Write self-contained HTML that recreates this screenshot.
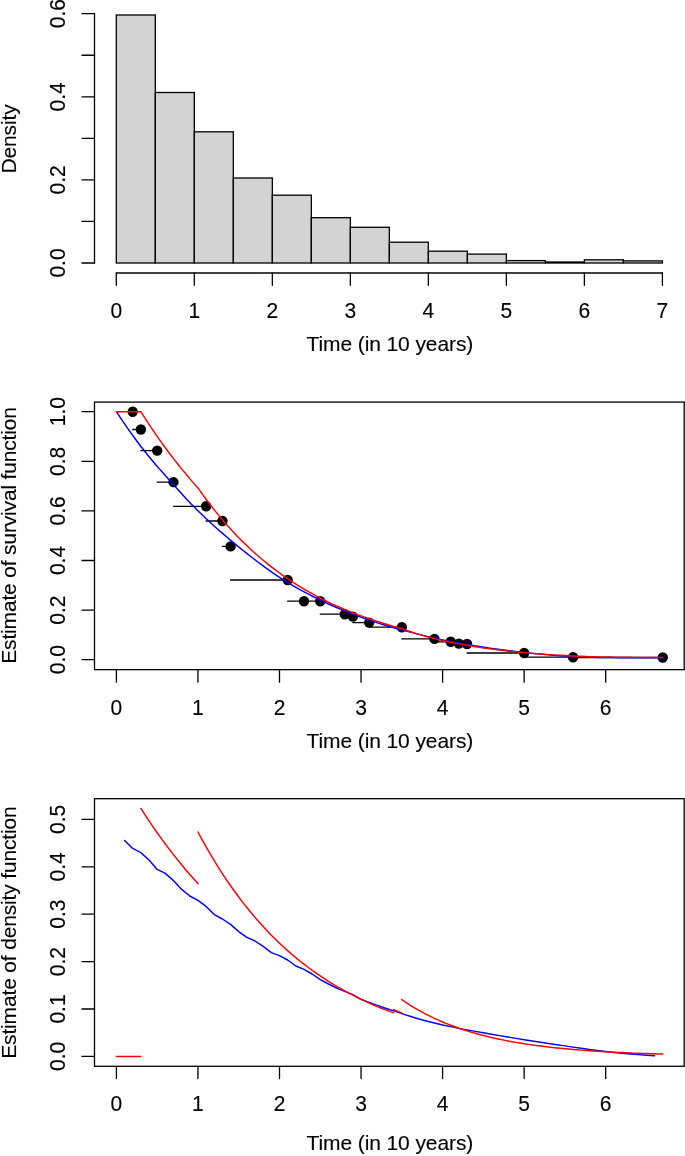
<!DOCTYPE html><html><head><meta charset="utf-8"><title>Survival and density estimates</title>
<style>html,body{margin:0;padding:0;background:#fff}svg{display:block}text{font-family:"Liberation Sans",Arial,sans-serif;font-size:21.0px;fill:#000;stroke:#000;stroke-width:0.12px}.l{stroke:#000;stroke-width:1.3;fill:none;stroke-linecap:round}.r{stroke:#ff0000;stroke-width:1.45;fill:none;stroke-linecap:round;stroke-linejoin:round}.b{stroke:#0000ff;stroke-width:1.45;fill:none;stroke-linecap:round;stroke-linejoin:round}.bar{fill:#d3d3d3;stroke:#000;stroke-width:1.3}</style></head><body>
<svg width="685" height="1156" viewBox="0 0 685 1156">
<rect width="685" height="1156" fill="#fff"/>
<rect class="bar" x="116.30" y="15.00" width="39.01" height="248.00"/>
<rect class="bar" x="155.31" y="92.50" width="39.01" height="170.50"/>
<rect class="bar" x="194.31" y="131.80" width="39.01" height="131.20"/>
<rect class="bar" x="233.32" y="178.00" width="39.01" height="85.00"/>
<rect class="bar" x="272.33" y="195.20" width="39.01" height="67.80"/>
<rect class="bar" x="311.33" y="217.70" width="39.01" height="45.30"/>
<rect class="bar" x="350.34" y="227.30" width="39.01" height="35.70"/>
<rect class="bar" x="389.35" y="242.20" width="39.01" height="20.80"/>
<rect class="bar" x="428.36" y="251.20" width="39.01" height="11.80"/>
<rect class="bar" x="467.36" y="254.10" width="39.01" height="8.90"/>
<rect class="bar" x="506.37" y="260.60" width="39.01" height="2.40"/>
<rect class="bar" x="545.38" y="262.00" width="39.01" height="1.00"/>
<rect class="bar" x="584.38" y="259.80" width="39.01" height="3.20"/>
<rect class="bar" x="623.39" y="260.90" width="39.01" height="2.10"/>
<line class="l" x1="94.50" y1="13.70" x2="94.50" y2="263.00"/>
<line class="l" x1="82.00" y1="263.00" x2="94.50" y2="263.00"/>
<line class="l" x1="82.00" y1="221.45" x2="94.50" y2="221.45"/>
<line class="l" x1="82.00" y1="179.90" x2="94.50" y2="179.90"/>
<line class="l" x1="82.00" y1="138.35" x2="94.50" y2="138.35"/>
<line class="l" x1="82.00" y1="96.80" x2="94.50" y2="96.80"/>
<line class="l" x1="82.00" y1="55.25" x2="94.50" y2="55.25"/>
<line class="l" x1="82.00" y1="13.70" x2="94.50" y2="13.70"/>
<text transform="translate(64.70,263.00) rotate(-90) scale(1,1.05)" text-anchor="middle">0.0</text>
<text transform="translate(64.70,179.90) rotate(-90) scale(1,1.05)" text-anchor="middle">0.2</text>
<text transform="translate(64.70,96.80) rotate(-90) scale(1,1.05)" text-anchor="middle">0.4</text>
<text transform="translate(64.70,13.70) rotate(-90) scale(1,1.05)" text-anchor="middle">0.6</text>
<line class="l" x1="116.30" y1="273.00" x2="662.40" y2="273.00"/>
<line class="l" x1="116.30" y1="273.00" x2="116.30" y2="285.30"/>
<text transform="translate(116.30,317.90) scale(1,1.05)" text-anchor="middle">0</text>
<line class="l" x1="194.31" y1="273.00" x2="194.31" y2="285.30"/>
<text transform="translate(194.31,317.90) scale(1,1.05)" text-anchor="middle">1</text>
<line class="l" x1="272.33" y1="273.00" x2="272.33" y2="285.30"/>
<text transform="translate(272.33,317.90) scale(1,1.05)" text-anchor="middle">2</text>
<line class="l" x1="350.34" y1="273.00" x2="350.34" y2="285.30"/>
<text transform="translate(350.34,317.90) scale(1,1.05)" text-anchor="middle">3</text>
<line class="l" x1="428.36" y1="273.00" x2="428.36" y2="285.30"/>
<text transform="translate(428.36,317.90) scale(1,1.05)" text-anchor="middle">4</text>
<line class="l" x1="506.37" y1="273.00" x2="506.37" y2="285.30"/>
<text transform="translate(506.37,317.90) scale(1,1.05)" text-anchor="middle">5</text>
<line class="l" x1="584.38" y1="273.00" x2="584.38" y2="285.30"/>
<text transform="translate(584.38,317.90) scale(1,1.05)" text-anchor="middle">6</text>
<line class="l" x1="662.40" y1="273.00" x2="662.40" y2="285.30"/>
<text transform="translate(662.40,317.90) scale(1,1.05)" text-anchor="middle">7</text>
<text transform="translate(389.90,351.00) scale(1,1.0)" text-anchor="middle" textLength="166.9" lengthAdjust="spacing">Time (in 10 years)</text>
<text transform="translate(15.70,138.90) rotate(-90) scale(1,1.0)" text-anchor="middle" textLength="69.2" lengthAdjust="spacing">Density</text>
<rect class="l" x="94.5" y="402.1" width="589.70" height="267.55"/>
<line class="l" x1="82.00" y1="659.70" x2="94.50" y2="659.70"/>
<text transform="translate(64.70,659.70) rotate(-90) scale(1,1.05)" text-anchor="middle">0.0</text>
<line class="l" x1="82.00" y1="610.10" x2="94.50" y2="610.10"/>
<text transform="translate(64.70,610.10) rotate(-90) scale(1,1.05)" text-anchor="middle">0.2</text>
<line class="l" x1="82.00" y1="560.50" x2="94.50" y2="560.50"/>
<text transform="translate(64.70,560.50) rotate(-90) scale(1,1.05)" text-anchor="middle">0.4</text>
<line class="l" x1="82.00" y1="510.90" x2="94.50" y2="510.90"/>
<text transform="translate(64.70,510.90) rotate(-90) scale(1,1.05)" text-anchor="middle">0.6</text>
<line class="l" x1="82.00" y1="461.30" x2="94.50" y2="461.30"/>
<text transform="translate(64.70,461.30) rotate(-90) scale(1,1.05)" text-anchor="middle">0.8</text>
<line class="l" x1="82.00" y1="411.70" x2="94.50" y2="411.70"/>
<text transform="translate(64.70,411.70) rotate(-90) scale(1,1.05)" text-anchor="middle">1.0</text>
<line class="l" x1="116.40" y1="669.65" x2="116.40" y2="682.20"/>
<text transform="translate(116.40,714.50) scale(1,1.05)" text-anchor="middle">0</text>
<line class="l" x1="197.95" y1="669.65" x2="197.95" y2="682.20"/>
<text transform="translate(197.95,714.50) scale(1,1.05)" text-anchor="middle">1</text>
<line class="l" x1="279.50" y1="669.65" x2="279.50" y2="682.20"/>
<text transform="translate(279.50,714.50) scale(1,1.05)" text-anchor="middle">2</text>
<line class="l" x1="361.05" y1="669.65" x2="361.05" y2="682.20"/>
<text transform="translate(361.05,714.50) scale(1,1.05)" text-anchor="middle">3</text>
<line class="l" x1="442.60" y1="669.65" x2="442.60" y2="682.20"/>
<text transform="translate(442.60,714.50) scale(1,1.05)" text-anchor="middle">4</text>
<line class="l" x1="524.15" y1="669.65" x2="524.15" y2="682.20"/>
<text transform="translate(524.15,714.50) scale(1,1.05)" text-anchor="middle">5</text>
<line class="l" x1="605.70" y1="669.65" x2="605.70" y2="682.20"/>
<text transform="translate(605.70,714.50) scale(1,1.05)" text-anchor="middle">6</text>
<text transform="translate(389.90,748.00) scale(1,1.0)" text-anchor="middle" textLength="166.9" lengthAdjust="spacing">Time (in 10 years)</text>
<text transform="translate(15.70,535.40) rotate(-90) scale(1,1.0)" text-anchor="middle" textLength="256.7" lengthAdjust="spacing">Estimate of survival function</text>
<line class="l" x1="132.71" y1="429.50" x2="140.87" y2="429.50"/>
<line class="l" x1="140.87" y1="450.60" x2="157.18" y2="450.60"/>
<line class="l" x1="157.18" y1="482.10" x2="173.49" y2="482.10"/>
<line class="l" x1="173.49" y1="506.30" x2="206.11" y2="506.30"/>
<line class="l" x1="206.11" y1="521.00" x2="222.42" y2="521.00"/>
<line class="l" x1="222.42" y1="546.40" x2="230.57" y2="546.40"/>
<line class="l" x1="230.57" y1="580.00" x2="287.65" y2="580.00"/>
<line class="l" x1="287.65" y1="601.20" x2="303.96" y2="601.20"/>
<line class="l" x1="303.96" y1="601.20" x2="320.27" y2="601.20"/>
<line class="l" x1="320.27" y1="614.20" x2="344.74" y2="614.20"/>
<line class="l" x1="344.74" y1="616.60" x2="352.89" y2="616.60"/>
<line class="l" x1="352.89" y1="622.60" x2="369.21" y2="622.60"/>
<line class="l" x1="369.21" y1="627.20" x2="401.83" y2="627.20"/>
<line class="l" x1="401.83" y1="638.90" x2="434.44" y2="638.90"/>
<line class="l" x1="434.44" y1="641.80" x2="450.75" y2="641.80"/>
<line class="l" x1="450.75" y1="643.60" x2="458.91" y2="643.60"/>
<line class="l" x1="458.91" y1="644.00" x2="467.06" y2="644.00"/>
<line class="l" x1="467.06" y1="653.00" x2="524.15" y2="653.00"/>
<line class="l" x1="524.15" y1="657.20" x2="573.08" y2="657.20"/>
<line class="l" x1="573.08" y1="657.50" x2="662.78" y2="657.50"/>
<circle cx="132.71" cy="411.70" r="5.2" fill="#000"/>
<circle cx="140.87" cy="429.50" r="5.2" fill="#000"/>
<circle cx="157.18" cy="450.60" r="5.2" fill="#000"/>
<circle cx="173.49" cy="482.10" r="5.2" fill="#000"/>
<circle cx="206.11" cy="506.30" r="5.2" fill="#000"/>
<circle cx="222.42" cy="521.00" r="5.2" fill="#000"/>
<circle cx="230.57" cy="546.40" r="5.2" fill="#000"/>
<circle cx="287.65" cy="580.00" r="5.2" fill="#000"/>
<circle cx="303.96" cy="601.20" r="5.2" fill="#000"/>
<circle cx="320.27" cy="601.20" r="5.2" fill="#000"/>
<circle cx="344.74" cy="614.20" r="5.2" fill="#000"/>
<circle cx="352.89" cy="616.60" r="5.2" fill="#000"/>
<circle cx="369.21" cy="622.60" r="5.2" fill="#000"/>
<circle cx="401.83" cy="627.20" r="5.2" fill="#000"/>
<circle cx="434.44" cy="638.90" r="5.2" fill="#000"/>
<circle cx="450.75" cy="641.80" r="5.2" fill="#000"/>
<circle cx="458.91" cy="643.60" r="5.2" fill="#000"/>
<circle cx="467.06" cy="644.00" r="5.2" fill="#000"/>
<circle cx="524.15" cy="653.00" r="5.2" fill="#000"/>
<circle cx="573.08" cy="657.20" r="5.2" fill="#000"/>
<circle cx="662.78" cy="657.50" r="5.2" fill="#000"/>
<polyline class="b" points="116.40,411.70 120.33,417.64 124.26,423.44 128.19,429.10 132.12,434.62 136.05,440.00 139.98,445.23 143.92,450.31 147.85,455.25 151.78,460.03 155.71,464.66 159.64,469.14 163.57,473.60 167.50,478.06 171.43,482.47 175.36,486.80 179.29,491.11 183.22,495.42 187.15,499.72 191.09,503.88 195.02,507.85 198.95,511.74 202.88,515.58 206.81,519.30 210.74,522.93 214.67,526.46 218.60,529.94 222.53,533.36 226.46,536.74 230.39,540.08 234.32,543.38 238.26,546.63 242.19,549.81 246.12,552.92 250.05,555.97 253.98,559.00 257.91,562.00 261.84,564.93 265.77,567.80 269.70,570.61 273.63,573.38 277.56,576.07 281.49,578.65 285.43,581.13 289.36,583.53 293.29,585.86 297.22,588.12 301.15,590.31 305.08,592.42 309.01,594.48 312.94,596.49 316.87,598.44 320.80,600.35 324.73,602.20 328.66,604.00 332.60,605.76 336.53,607.47 340.46,609.15 344.39,610.79 348.32,612.40 352.25,613.95 356.18,615.44 360.11,616.88 364.04,618.30 367.97,619.68 371.90,621.03 375.83,622.33 379.77,623.59 383.70,624.81 387.63,625.97 391.56,627.10 395.49,628.19 399.42,629.24 403.35,630.28 407.28,631.31 411.21,632.35 415.14,633.39 419.07,634.41 423.00,635.40 426.94,636.37 430.87,637.31 434.80,638.22 438.73,639.09 442.66,639.93 446.59,640.74 450.52,641.53 454.45,642.28 458.38,643.01 462.31,643.71 466.24,644.40 470.17,645.06 474.11,645.69 478.04,646.30 481.97,646.91 485.90,647.51 489.83,648.11 493.76,648.68 497.69,649.24 501.62,649.79 505.55,650.32 509.48,650.81 513.41,651.27 517.34,651.71 521.28,652.14 525.21,652.56 529.14,652.98 533.07,653.38 537.00,653.77 540.93,654.15 544.86,654.51 548.79,654.86 552.72,655.18 556.65,655.49 560.58,655.78 564.51,656.04 568.45,656.28 572.38,656.51 576.31,656.71 580.24,656.88 584.17,657.03 588.10,657.15 592.03,657.25 595.96,657.34 599.89,657.41 603.82,657.47 607.75,657.53 611.68,657.58 615.62,657.63 619.55,657.67 623.48,657.71 627.41,657.74 631.34,657.76 635.27,657.78 639.20,657.80 643.13,657.82 647.06,657.84 650.99,657.86 654.92,657.88 658.85,657.91 662.78,657.94"/>
<polyline class="r" points="116.40,411.70 120.48,411.70 124.56,411.70 128.63,411.70 132.71,411.70 136.79,411.70 140.87,411.70 144.94,418.10 149.02,424.35 153.10,430.43 157.18,436.36 161.25,442.13 165.33,447.76 169.41,453.25 173.49,458.60 177.56,463.81 181.64,468.88 185.72,473.83 189.80,478.65 193.87,483.35 197.95,487.93 202.03,493.70 206.11,499.28 210.18,504.67 214.26,509.88 218.34,514.91 222.42,519.78 226.49,524.48 230.57,529.02 234.65,533.41 238.72,537.65 242.80,541.75 246.88,545.71 250.96,549.54 255.03,553.24 259.11,556.81 263.19,560.27 267.27,563.61 271.35,566.83 275.42,569.95 279.50,572.97 283.58,575.88 287.65,578.69 291.73,581.41 295.81,584.04 299.89,586.58 303.96,589.03 308.04,591.40 312.12,593.70 316.20,595.91 320.27,598.05 324.35,600.12 328.43,602.12 332.51,604.05 336.59,605.92 340.66,607.72 344.74,609.47 348.82,611.15 352.89,612.78 356.97,614.35 361.05,615.87 365.13,617.34 369.21,618.76 373.28,620.13 377.36,621.46 381.44,622.74 385.51,623.98 389.59,625.18 393.67,626.33 397.75,627.53 401.83,628.69 405.90,630.16 409.98,631.55 414.06,632.88 418.13,634.14 422.21,635.34 426.29,636.49 430.37,637.58 434.44,638.61 438.52,639.60 442.60,640.54 446.68,641.43 450.75,642.28 454.83,643.09 458.91,643.87 462.99,644.60 467.06,645.30 471.14,646.00 475.22,646.66 479.30,647.30 483.38,647.91 487.45,648.49 491.53,649.04 495.61,649.57 499.69,650.07 503.76,650.55 507.84,651.01 511.92,651.45 516.00,651.86 520.07,652.26 524.15,652.64 528.23,653.01 532.30,653.36 536.38,653.69 540.46,654.01 544.54,654.31 548.62,654.61 552.69,654.86 556.77,655.10 560.85,655.33 564.92,655.55 569.00,655.76 573.08,655.96 577.16,656.15 581.24,656.33 585.31,656.50 589.39,656.66 593.47,656.76 597.55,656.85 601.62,656.93 605.70,657.01 609.78,657.08 613.85,657.14 617.93,657.20 622.01,657.25 626.09,657.30 630.16,657.34 634.24,657.36 638.32,657.38 642.40,657.39 646.47,657.40 650.55,657.40 654.63,657.40 658.71,657.40 662.78,657.39"/>
<rect class="l" x="94.5" y="798.7" width="589.70" height="267.60"/>
<line class="l" x1="82.00" y1="1056.40" x2="94.50" y2="1056.40"/>
<text transform="translate(64.70,1056.40) rotate(-90) scale(1,1.05)" text-anchor="middle">0.0</text>
<line class="l" x1="82.00" y1="1009.00" x2="94.50" y2="1009.00"/>
<text transform="translate(64.70,1009.00) rotate(-90) scale(1,1.05)" text-anchor="middle">0.1</text>
<line class="l" x1="82.00" y1="961.60" x2="94.50" y2="961.60"/>
<text transform="translate(64.70,961.60) rotate(-90) scale(1,1.05)" text-anchor="middle">0.2</text>
<line class="l" x1="82.00" y1="914.20" x2="94.50" y2="914.20"/>
<text transform="translate(64.70,914.20) rotate(-90) scale(1,1.05)" text-anchor="middle">0.3</text>
<line class="l" x1="82.00" y1="866.80" x2="94.50" y2="866.80"/>
<text transform="translate(64.70,866.80) rotate(-90) scale(1,1.05)" text-anchor="middle">0.4</text>
<line class="l" x1="82.00" y1="819.40" x2="94.50" y2="819.40"/>
<text transform="translate(64.70,819.40) rotate(-90) scale(1,1.05)" text-anchor="middle">0.5</text>
<line class="l" x1="116.40" y1="1066.30" x2="116.40" y2="1078.50"/>
<text transform="translate(116.40,1110.60) scale(1,1.05)" text-anchor="middle">0</text>
<line class="l" x1="197.95" y1="1066.30" x2="197.95" y2="1078.50"/>
<text transform="translate(197.95,1110.60) scale(1,1.05)" text-anchor="middle">1</text>
<line class="l" x1="279.50" y1="1066.30" x2="279.50" y2="1078.50"/>
<text transform="translate(279.50,1110.60) scale(1,1.05)" text-anchor="middle">2</text>
<line class="l" x1="361.05" y1="1066.30" x2="361.05" y2="1078.50"/>
<text transform="translate(361.05,1110.60) scale(1,1.05)" text-anchor="middle">3</text>
<line class="l" x1="442.60" y1="1066.30" x2="442.60" y2="1078.50"/>
<text transform="translate(442.60,1110.60) scale(1,1.05)" text-anchor="middle">4</text>
<line class="l" x1="524.15" y1="1066.30" x2="524.15" y2="1078.50"/>
<text transform="translate(524.15,1110.60) scale(1,1.05)" text-anchor="middle">5</text>
<line class="l" x1="605.70" y1="1066.30" x2="605.70" y2="1078.50"/>
<text transform="translate(605.70,1110.60) scale(1,1.05)" text-anchor="middle">6</text>
<text transform="translate(389.90,1150.40) scale(1,1.0)" text-anchor="middle" textLength="166.9" lengthAdjust="spacing">Time (in 10 years)</text>
<text transform="translate(15.70,932.50) rotate(-90) scale(1,1.0)" text-anchor="middle" textLength="252.5" lengthAdjust="spacing">Estimate of density function</text>
<polyline class="b" points="124.56,840.60 132.71,848.40 140.87,852.60 149.02,860.00 157.18,869.40 165.33,873.40 173.49,880.60 181.64,889.40 189.80,896.00 197.95,900.40 206.11,906.40 214.26,914.60 222.42,919.00 230.57,924.40 238.72,931.60 246.88,937.40 255.04,941.00 263.19,946.40 271.35,952.60 279.50,955.60 287.65,960.00 295.81,966.00 303.97,969.40 312.12,974.00 320.27,979.60 328.43,984.00 336.59,988.00 344.74,991.40 352.90,994.60 361.05,999.39 369.21,1002.41 377.36,1005.42 385.51,1008.22 393.67,1010.91 401.83,1013.58 409.98,1016.19 418.13,1018.80 426.29,1020.97 434.45,1023.01 442.60,1024.95 450.75,1026.66 458.91,1028.37 467.06,1029.89 475.22,1031.38 483.38,1032.81 491.53,1034.22 499.69,1035.61 507.84,1037.01 516.00,1038.40 524.15,1039.79 532.31,1041.01 540.46,1042.23 548.62,1043.45 556.77,1044.67 564.92,1045.89 573.08,1047.10 581.24,1048.32 589.39,1049.51 597.55,1050.50 605.70,1051.49 613.86,1052.48 622.01,1053.40 630.16,1054.01 638.32,1054.61 646.47,1055.22 654.63,1055.80"/>
<line class="r" x1="116.40" y1="1056.40" x2="140.87" y2="1056.40"/>
<polyline class="r" points="140.87,808.40 144.94,814.72 149.02,820.88 153.10,826.87 157.17,832.72 161.25,838.42 165.33,843.97 169.41,849.38 173.48,854.65 177.56,859.79 181.64,864.80 185.72,869.68 189.79,874.43 193.87,879.07 197.95,883.59"/>
<polyline class="r" points="197.95,832.01 202.03,839.55 206.10,846.84 210.18,853.89 214.26,860.70 218.34,867.28 222.41,873.64 226.49,879.78 230.57,885.72 234.65,891.46 238.72,897.00 242.80,902.36 246.88,907.54 250.96,912.55 255.03,917.38 259.11,922.06 263.19,926.57 267.27,930.94 271.34,935.16 275.42,939.23 279.50,943.17 283.58,946.98 287.65,950.66 291.73,954.21 295.81,957.65 299.89,960.97 303.96,964.18 308.04,967.28 312.12,970.28 316.20,973.17 320.27,975.97 324.35,978.67 328.43,981.29 332.51,983.81 336.58,986.25 340.66,988.61 344.74,990.89 348.82,993.09 352.89,995.22 356.97,997.28 361.05,999.27 365.13,1001.19 369.20,1003.04 373.28,1004.84 377.36,1006.57 381.44,1008.25 385.51,1009.87 389.59,1011.43 393.67,1012.94"/>
<polyline class="r" points="393.67,1009.62 397.75,1011.30 401.82,1012.98"/>
<polyline class="r" points="401.83,999.61 405.90,1002.38 409.98,1005.02 414.06,1007.52 418.13,1009.91 422.21,1012.18 426.29,1014.33 430.37,1016.38 434.44,1018.34 438.52,1020.19 442.60,1021.96 446.68,1023.64 450.75,1025.24 454.83,1026.76 458.91,1028.20 462.99,1029.58 467.06,1030.88 471.14,1032.13 475.22,1033.31 479.30,1034.44 483.37,1035.51 487.45,1036.53 491.53,1037.50 495.61,1038.42 499.68,1039.30 503.76,1040.13 507.84,1040.92 511.92,1041.68 515.99,1042.40 520.07,1043.08 524.15,1043.73 528.23,1044.35 532.30,1044.94 536.38,1045.49 540.46,1046.03 544.54,1046.53 548.61,1047.01 552.69,1047.47 556.77,1047.91 560.85,1048.32 564.92,1048.71 569.00,1049.09 573.08,1049.45 577.16,1049.79 581.23,1050.11 585.31,1050.41 589.39,1050.71 593.47,1050.98 597.54,1051.25 601.62,1051.50 605.70,1051.74 609.78,1051.97 613.85,1052.18 617.93,1052.39 622.01,1052.58 626.09,1052.77 630.16,1052.95 634.24,1053.12 638.32,1053.28 642.40,1053.43 646.47,1053.57 650.55,1053.71 654.63,1053.84 658.71,1053.97 662.78,1054.09"/>
</svg></body></html>
